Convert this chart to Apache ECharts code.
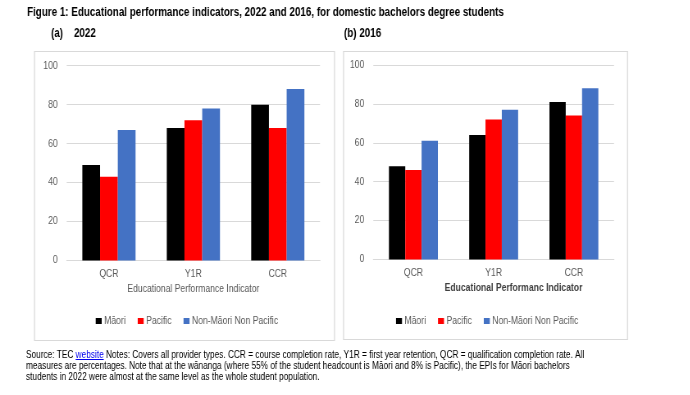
<!DOCTYPE html>
<html>
<head>
<meta charset="utf-8">
<script src="https://cdn.jsdelivr.net/npm/echarts@6/dist/echarts.min.js"></script>
<style>
html,body{margin:0;padding:0;background:#fff;overflow:hidden;width:690px;height:395px;}
#wrap{width:690px;height:395px;overflow:hidden;position:relative;}
#c{position:absolute;left:0;top:0;height:395px;transform-origin:0 0;}
</style>
</head>
<body>
<div id="wrap"><div id="c"></div></div>
<script>
const categories = ['QCR', 'Y1R', 'CCR'];
const seriesNames = ['Māori', 'Pacific', 'Non-Māori Non Pacific'];
const maori2022 = [49, 68, 80];
const pacific2022 = [43, 72, 68];
const nonMP2022 = [67, 78, 88];
const maori2016 = [48, 64, 81];
const pacific2016 = [46, 72, 74];
const nonMP2016 = [61, 77, 88];
const yTicks = [0, 20, 40, 60, 80, 100];
const figTitle = 'Figure 1: Educational performance indicators, 2022 and 2016, for domestic bachelors degree students';
const panelA = '(a)    2022';
const panelB = '(b) 2016';
const axisNameA = 'Educational Performance Indicator';
const axisNameB = 'Educational Performanc Indicator';
const notePrefix = 'Source: TEC ';
const noteLink = 'website';
const noteLines = [
  notePrefix + '{l|' + noteLink + '} Notes: Covers all provider types. CCR = course completion rate, Y1R = first year retention, QCR = qualification completion rate. All',
  'measures are percentages. Note that at the wānanga (where 55% of the student headcount is Māori and 8% is Pacific), the EPIs for Māori bachelors',
  'students in 2022 were almost at the same level as the whole student population.'
];

// The reference uses a horizontally condensed typeface; emulate by drawing wider and condensing.
const SX = 0.82;
const W = 690 / SX;
const X = px => px / SX;
const el = document.getElementById('c');
el.style.width = W + 'px';
el.style.transform = 'scaleX(' + SX + ')';

const FF = "'Liberation Sans', Arial, sans-serif";
const colors = ['#000000', '#ff0000', '#4472c4'];
const gridColor = '#d9d9d9';
const labelColor = '#595959';
const noteFont = '10.1px ' + FF;

const chart = echarts.init(el, null, {renderer: 'canvas', width: W, height: 395});

function yAxis(gi) {
  return {
    gridIndex: gi, type: 'value', min: yTicks[0], max: yTicks[yTicks.length - 1], interval: 20,
    axisLine: {show: false}, axisTick: {show: false},
    splitLine: {lineStyle: {color: gridColor, width: 1}},
    axisLabel: {color: labelColor, fontFamily: FF, fontSize: 10.5, margin: X(9)}
  };
}
function xAxis(gi, name) {
  const a = {
    gridIndex: gi, type: 'category', data: categories,
    axisLine: {lineStyle: {color: gridColor, width: 1}}, axisTick: {show: false},
    axisLabel: {color: labelColor, fontFamily: FF, fontSize: 10.5, margin: 8}
  };
  if (name) {
    a.name = name; a.nameLocation = 'middle'; a.nameGap = 23;
    a.nameTextStyle = {color: labelColor, fontFamily: FF, fontSize: 10.5};
  }
  return a;
}
function bars(gi, data, gap) {
  return data.map((d, i) => ({
    name: seriesNames[i], type: 'bar', xAxisIndex: gi, yAxisIndex: gi, data: d,
    itemStyle: {color: colors[i]}, barGap: '0%', barCategoryGap: gap, animation: false
  }));
}
function legend(left) {
  return {
    data: seriesNames, left: left, top: 315.5, padding: 0, itemWidth: X(6), itemHeight: 6, itemGap: X(12),
    icon: 'rect', selectedMode: false,
    textStyle: {color: labelColor, fontFamily: FF, fontSize: 10.5, padding: [0, 0, 0, -2]}
  };
}

const graphics = [
  {type: 'rect', shape: {x: X(34.5), y: 51.5, width: X(300), height: 289}, style: {fill: 'none', stroke: gridColor, lineWidth: 1.2}, silent: true},
  {type: 'rect', shape: {x: X(343.5), y: 51.5, width: X(284), height: 288}, style: {fill: 'none', stroke: gridColor, lineWidth: 1.2}, silent: true},
  {type: 'text', x: X(27), y: 12.5, style: {text: figTitle, font: 'bold 12px ' + FF, fill: '#000', verticalAlign: 'middle'}},
  {type: 'text', x: X(51), y: 33.5, style: {text: panelA, font: 'bold 12px ' + FF, fill: '#000', verticalAlign: 'middle'}},
  {type: 'text', x: X(344), y: 33.5, style: {text: panelB, font: 'bold 12px ' + FF, fill: '#000', verticalAlign: 'middle'}},
  {type: 'text', x: X(513.5), y: 288.5, style: {text: axisNameB, font: 'bold 10.5px ' + FF, fill: '#404040', align: 'center', verticalAlign: 'middle'}},
];
const noteY = [355, 366.5, 377.5];
noteLines.forEach((t, i) => {
  graphics.push({type: 'text', x: X(26), y: noteY[i], style: {text: t, font: noteFont, fill: '#000', verticalAlign: 'middle', rich: {l: {fill: '#0000ee', font: noteFont}}}});
});
// underline under the link text, measured from the rendered font
const mctx = document.createElement('canvas').getContext('2d');
mctx.font = noteFont;
const ux1 = X(26) + mctx.measureText(notePrefix).width;
const ux2 = ux1 + mctx.measureText(noteLink).width;
graphics.push({type: 'line', shape: {x1: ux1, y1: 359.5, x2: ux2, y2: 359.5}, style: {stroke: '#0000ee', lineWidth: 1}});

chart.setOption({
  animation: false,
  backgroundColor: '#ffffff',
  color: colors,
  grid: [
    {left: X(66.7), right: W - X(320), top: 65.7, bottom: 134.5, containLabel: false},
    {left: X(373.3), right: W - X(614), top: 65, bottom: 135.5, containLabel: false}
  ],
  xAxis: [xAxis(0, axisNameA), xAxis(1, null)],
  yAxis: [yAxis(0), yAxis(1)],
  legend: [legend(X(95.7)), legend(X(396))],
  series: [].concat(
    bars(0, [maori2022, pacific2022, nonMP2022], '37%'),
    bars(1, [maori2016, pacific2016, nonMP2016], '39%')
  ),
  graphic: graphics
});
</script>
</body>
</html>
